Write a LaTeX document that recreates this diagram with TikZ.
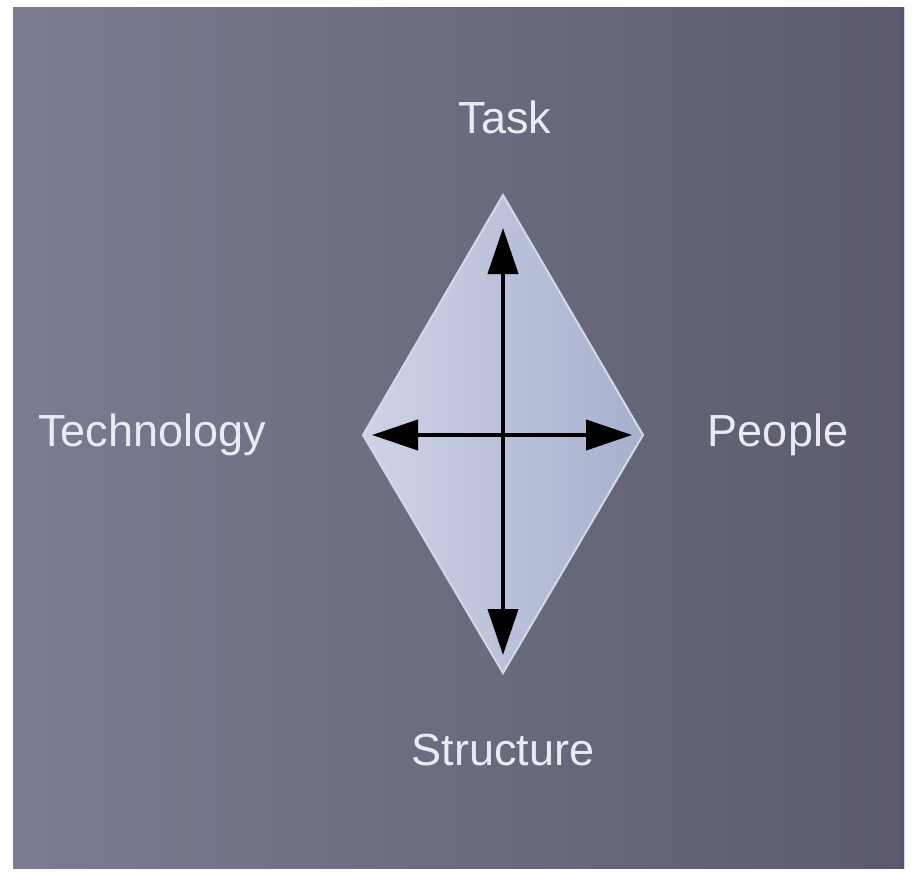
\documentclass[tikz,border=0pt]{standalone}
\usepackage{fontspec}
\setmainfont{Liberation Sans}
\usetikzlibrary{arrows.meta}
\definecolor{bgA}{HTML}{7B7C91}
\definecolor{bgB}{HTML}{5B5B6D}
\definecolor{dmA}{HTML}{CED3E7}
\definecolor{dmB}{HTML}{A7B0CD}
\definecolor{dmEdge}{HTML}{D3D8EA}
\definecolor{txt}{HTML}{EAEAF2}
\definecolor{edgeblue}{HTML}{4B5275}
\tikzset{
  lbl/.style={font=\fontsize{45}{50}\selectfont, text=txt, inner sep=0pt},
  corner/.style={inner sep=0pt, minimum size=0pt},
  dblarrow/.style={line width=4pt, black, {Triangle[length=46pt,width=30pt]}-{Triangle[length=46pt,width=30pt]}}
}
\begin{document}
\begin{tikzpicture}[x=1pt,y=-1pt]
\useasboundingbox (0,0) rectangle (918,883);
\fill[white] (0,0) rectangle (918,883);
\shade[shading angle=-70, left color=bgA, right color=bgB] (13,8) rectangle (904,868);
\shade[left color=bgB, right color=edgeblue] (897,8) rectangle (904,868);
% diamond corners
\coordinate (top) at (503,195);
\coordinate (bot) at (503,673);
\coordinate (lft) at (363,435);
\coordinate (rgt) at (643,435);
\shade[shading angle=-60, left color=dmA, right color=dmB, draw=dmEdge, line width=2pt, line join=miter]
  (top) -- (rgt) -- (bot) -- (lft) -- cycle;
% arrow ends
\coordinate (aT) at (503,228);
\coordinate (aB) at (503,655);
\coordinate (aL) at (372,435);
\coordinate (aR) at (632,435);
\draw[dblarrow] (aB) -- (aT);
\draw[dblarrow] (aL) -- (aR);
% labels
\node[lbl] (task) at (505,117) {Task};
\node[lbl] (tech) at (152,435) {Technology};
\node[lbl] (people) at (778,435) {People};
\node[lbl] (structure) at (503,750) {Structure};
\end{tikzpicture}
\end{document}
